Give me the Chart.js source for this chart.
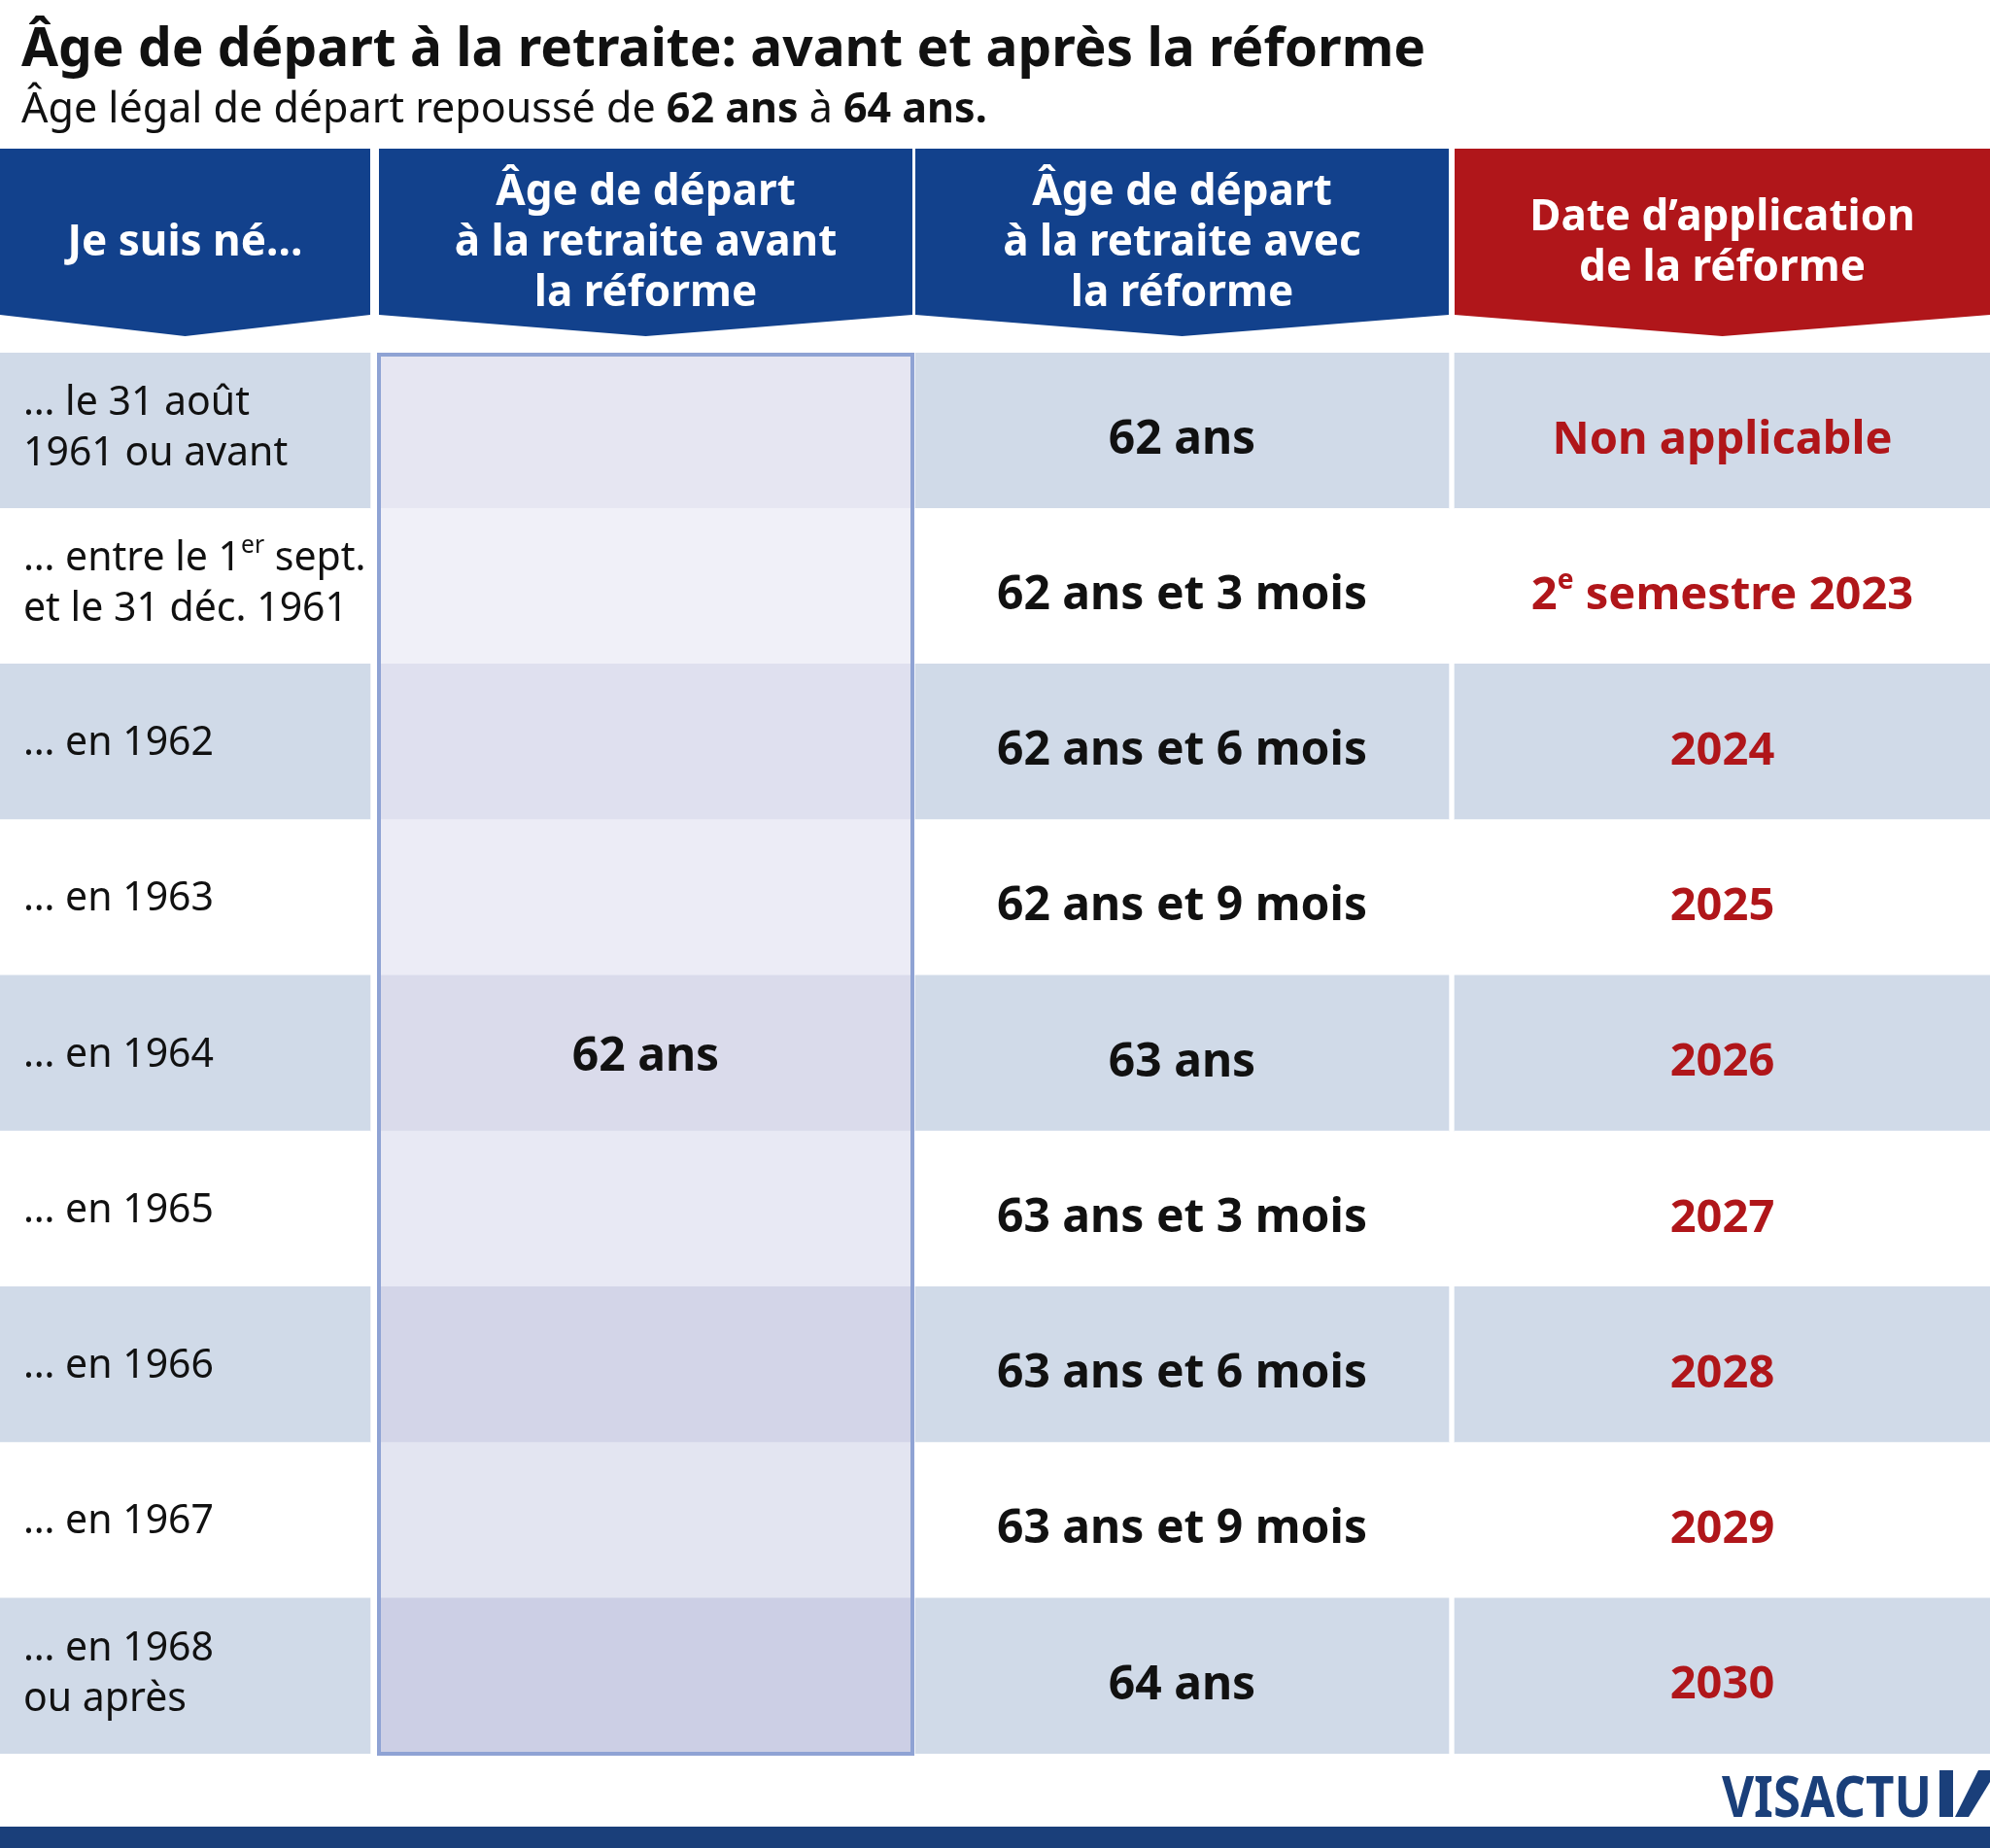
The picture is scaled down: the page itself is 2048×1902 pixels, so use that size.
<!DOCTYPE html>
<html><head><meta charset="utf-8">
<script src="https://cdn.jsdelivr.net/npm/chart.js@4"></script>
<style>html,body{margin:0;padding:0;background:#fff}#wrap{width:2048px;height:1902px}</style>
</head><body><div id="wrap"><canvas id="c" width="2048" height="1902"></canvas></div>
<script>
// ---- data ----
const titleText = "Âge de départ à la retraite: avant et après la réforme";
const subtitleParts = [["Âge légal de départ repoussé de ",false],["62 ans",true],[" à ",false],["64 ans.",true]];
const headers = [["Je suis né…"],["Âge de départ","à la retraite avant","la réforme"],["Âge de départ","à la retraite avec","la réforme"],["Date d’application","de la réforme"]];
const rowLabels = [["… le 31 août","1961 ou avant"],["… entre le 1^er^ sept.","et le 31 déc. 1961"],["… en 1962"],["… en 1963"],["… en 1964"],["… en 1965"],["… en 1966"],["… en 1967"],["… en 1968","ou après"]];
const ageBefore = "62 ans";
const ageAfter = ["62 ans","62 ans et 3 mois","62 ans et 6 mois","62 ans et 9 mois","63 ans","63 ans et 3 mois","63 ans et 6 mois","63 ans et 9 mois","64 ans"];
const applyDate = ["Non applicable","2^e^ semestre 2023","2024","2025","2026","2027","2028","2029","2030"];

// ---- layout / style ----
const cols = [[0,381],[390,939],[942,1491],[1497,2048]];
const headColors = ["#12418c","#12418c","#12418c","#b0161a"];
const midColors = ["#e6e6f2","#f0f0f8","#dfe0ef","#ececf6","#dadbeb","#e8e9f4","#d3d5e8","#e3e5f1","#cccfe5"];
const F = '"Noto Sans", "DejaVu Sans", sans-serif';
const rowIds = rowLabels.map((r,i)=>'r'+i);
const stripe = (i)=> i%2===0 ? "#d0dae8" : "#ffffff";

function richWidth(ctx, s, size, weight){
  let w=0; s.split('^').forEach((p,k)=>{ctx.font=`${weight} ${k%2?size*0.6:size}px ${F}`; w+=ctx.measureText(p).width;}); return w;
}
function drawRich(ctx, s, x, y, size, weight, align){
  const w = richWidth(ctx,s,size,weight);
  let cx = align==='center'? x-w/2 : x;
  ctx.textAlign='left'; ctx.textBaseline='middle';
  s.split('^').forEach((p,k)=>{
    const sup=k%2===1; ctx.font=`${weight} ${sup?size*0.6:size}px ${F}`;
    ctx.fillText(p, cx, sup? y-size*0.32 : y); cx += ctx.measureText(p).width;
  });
}

const datasets = [
  {data: rowIds.map(()=>cols[0]), backgroundColor: rowIds.map((r,i)=>stripe(i))},
  {data: rowIds.map(()=>cols[1]), backgroundColor: midColors},
  {data: rowIds.map(()=>cols[2]), backgroundColor: rowIds.map((r,i)=>stripe(i))},
  {data: rowIds.map(()=>cols[3]), backgroundColor: rowIds.map((r,i)=>stripe(i))}
].map(d=>Object.assign(d,{barPercentage:1,categoryPercentage:1,borderWidth:0,grouped:false}));

const deco = {
  id:'deco',
  afterDatasetsDraw(chart){
    const ctx=chart.ctx, x=chart.scales.x, y=chart.scales.y;
    const rowTop=i=>y.getPixelForValue(i)-(y.getPixelForValue(1)-y.getPixelForValue(0))/2;
    const rh = y.getPixelForValue(1)-y.getPixelForValue(0);
    ctx.save();
    // title
    ctx.fillStyle='#111'; ctx.textBaseline='alphabetic'; ctx.textAlign='left';
    ctx.font=`bold 55px ${F}`; ctx.fillText(titleText, 22, 68);
    let sx=22; subtitleParts.forEach(([t,b])=>{ctx.font=`${b?'bold':'normal'} 43px ${F}`; ctx.fillText(t,sx,126); sx+=ctx.measureText(t).width;});
    // headers
    const top=153, bot=324, tip=346;
    cols.forEach((c,i)=>{
      const l=x.getPixelForValue(c[0]), r=x.getPixelForValue(c[1]);
      ctx.fillStyle=headColors[i]; ctx.beginPath();
      ctx.moveTo(l,top); ctx.lineTo(r,top); ctx.lineTo(r,bot); ctx.lineTo((l+r)/2,tip); ctx.lineTo(l,bot); ctx.closePath(); ctx.fill();
      ctx.fillStyle='#fff'; ctx.font=`bold 44px ${F}`; ctx.textAlign='center'; ctx.textBaseline='middle';
      const lines=headers[i], lh=52, cy=(top+bot)/2+12-(lines.length-1)*lh/2;
      lines.forEach((t,k)=>ctx.fillText(t,(l+r)/2,cy+k*lh));
    });
    // body text
    rowLabels.forEach((lines,i)=>{
      const cy=y.getPixelForValue(i);
      ctx.fillStyle='#111';
      const lh=52, y0=cy-(lines.length-1)*lh/2 - (lines.length>1?2:-2);
      lines.forEach((t,k)=>drawRich(ctx,t,24,y0+k*lh,41,'normal','left'));
      const c2=(x.getPixelForValue(cols[2][0])+x.getPixelForValue(cols[2][1]))/2;
      const c3=(x.getPixelForValue(cols[3][0])+x.getPixelForValue(cols[3][1]))/2;
      drawRich(ctx,ageAfter[i],c2,cy+10,48,'bold','center');
      ctx.fillStyle='#b0161a'; drawRich(ctx,applyDate[i],c3,cy+10,47,'bold','center');
    });
    const l1=x.getPixelForValue(cols[1][0]), r1=x.getPixelForValue(cols[1][1]);
    ctx.fillStyle='#111'; drawRich(ctx,ageBefore,(l1+r1)/2,y.getPixelForValue(4)+4,48,'bold','center');
    ctx.strokeStyle='#8fa3d4'; ctx.lineWidth=4;
    ctx.strokeRect(l1,rowTop(0)+2,r1-l1,rh*rowIds.length-2);
    // footer
    ctx.fillStyle='#1a3f7a'; ctx.fillRect(0,1880,2048,22);
    ctx.font=`bold 60px "Liberation Sans Narrow", ${F}`; ctx.textAlign='right'; ctx.textBaseline='alphabetic';
    ctx.save(); ctx.translate(1988,1870); ctx.scale(0.85,1); ctx.fillText('VISACTU',0,0); ctx.restore();
    ctx.beginPath(); ctx.moveTo(1996,1870); ctx.lineTo(1996,1822); ctx.lineTo(2010,1822); ctx.lineTo(2010,1870); ctx.closePath(); ctx.fill();
    ctx.beginPath(); ctx.moveTo(2012,1870); ctx.lineTo(2036,1822); ctx.lineTo(2048,1822); ctx.lineTo(2048,1834); ctx.lineTo(2026,1870); ctx.closePath(); ctx.fill();
    ctx.restore();
  }
};

new Chart(document.getElementById('c'),{
  type:'bar',
  data:{labels:rowIds,datasets},
  options:{
    indexAxis:'y',responsive:false,animation:false,devicePixelRatio:1,
    layout:{padding:{top:363,bottom:97,left:0,right:0}},
    plugins:{legend:{display:false},tooltip:{enabled:false},title:{display:false}},
    scales:{
      x:{type:'linear',min:0,max:2048,display:false},
      y:{type:'category',display:false,offset:true}
    }
  },
  plugins:[deco]
});
</script></body></html>
